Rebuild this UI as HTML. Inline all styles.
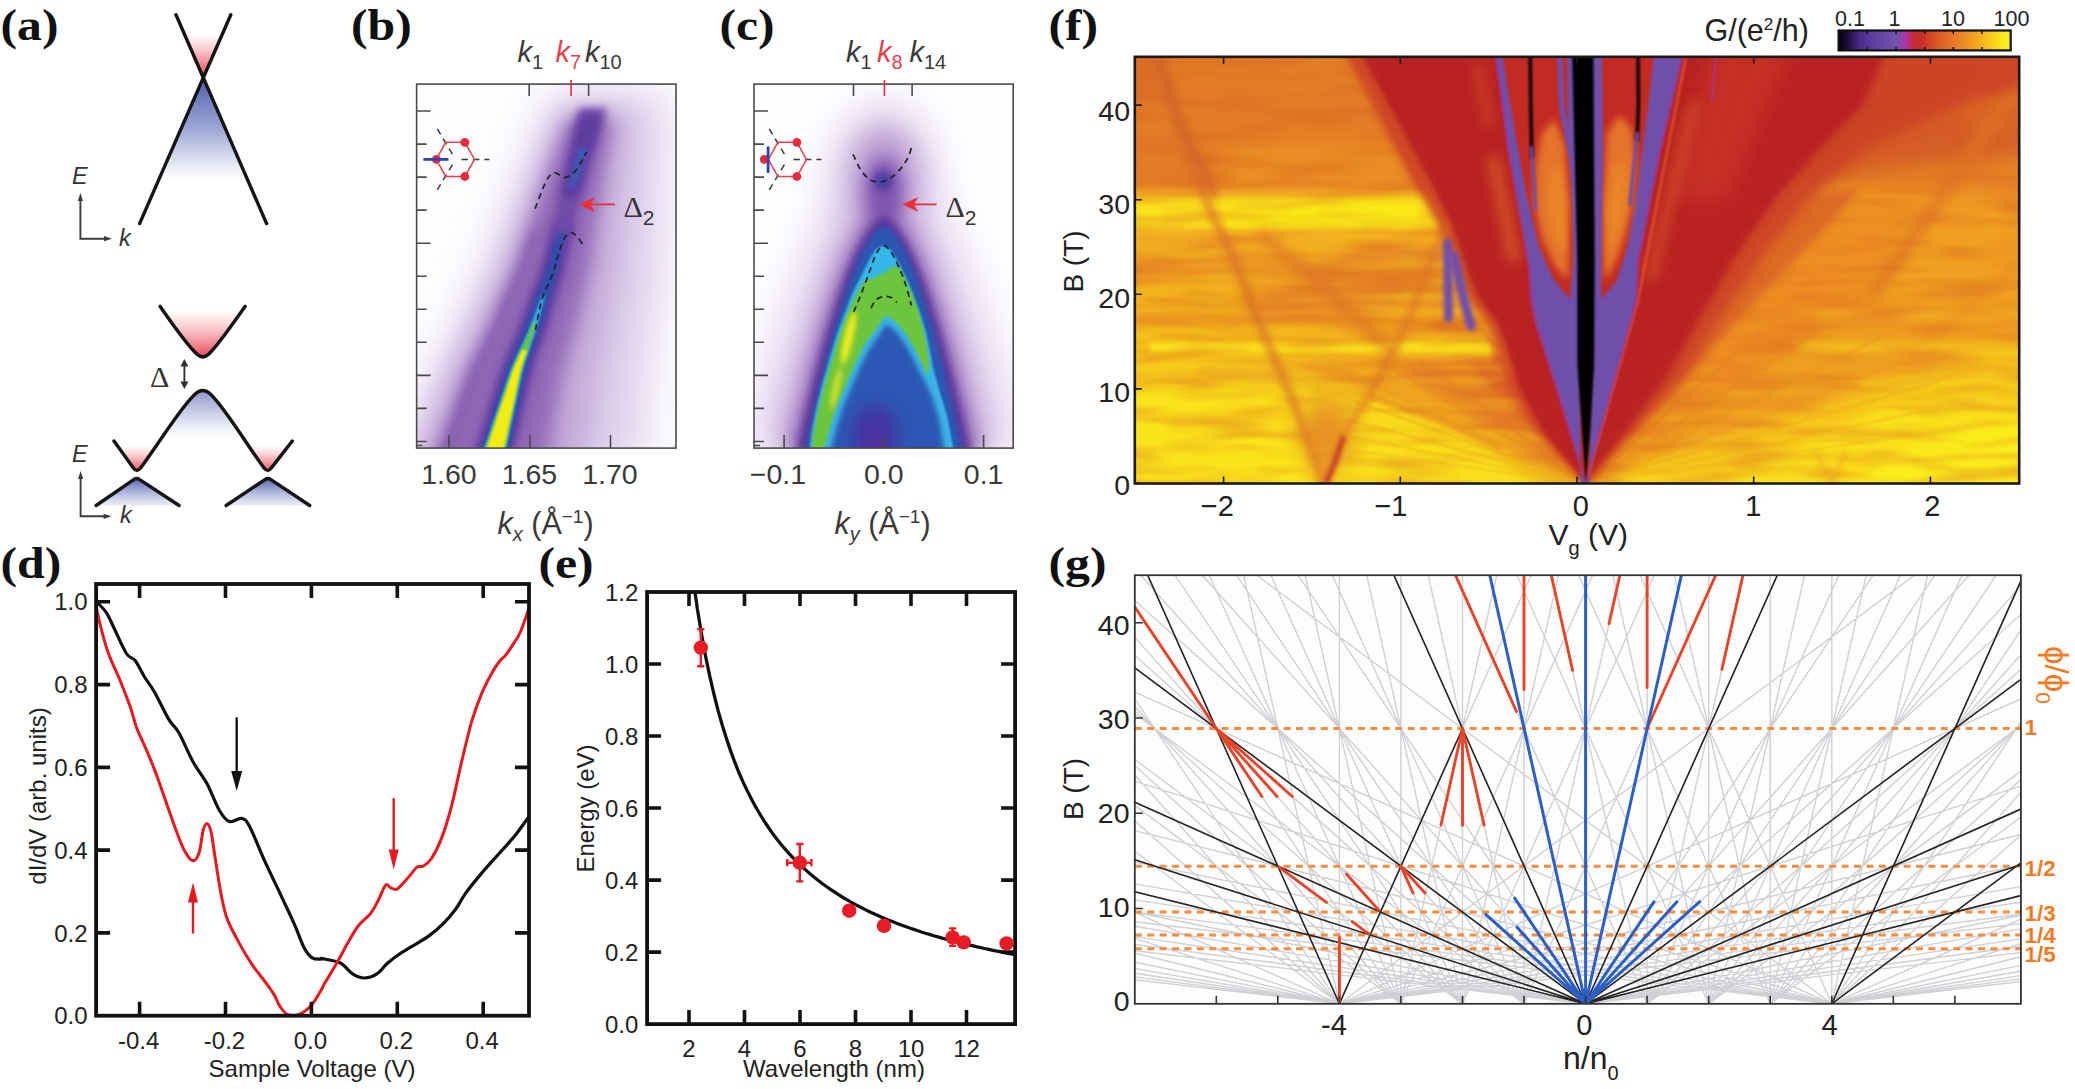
<!DOCTYPE html>
<html><head><meta charset="utf-8"><title>Figure</title>
<style>
html,body{margin:0;padding:0;background:#fff;}
svg{display:block}
.ss{font-family:"Liberation Sans", sans-serif;}
.sf{font-family:"Liberation Serif", serif;}
</style></head><body>
<svg width="2075" height="1089" viewBox="0 0 2075 1089">
<defs>
<linearGradient id="gR" x1="0" y1="0" x2="0" y2="1"><stop offset="0" stop-color="#f2707a" stop-opacity="0"/><stop offset="0.25" stop-color="#f0707a" stop-opacity="0.25"/><stop offset="1" stop-color="#e8434f" stop-opacity="1"/></linearGradient>
<linearGradient id="gB" x1="0" y1="0" x2="0" y2="1"><stop offset="0" stop-color="#4a5aaa" stop-opacity="1"/><stop offset="0.5" stop-color="#7080c0" stop-opacity="0.7"/><stop offset="1" stop-color="#9098d0" stop-opacity="0"/></linearGradient>
<linearGradient id="gB2" x1="0" y1="0" x2="0" y2="1"><stop offset="0" stop-color="#4a5aaa" stop-opacity="1"/><stop offset="0.55" stop-color="#8f9ad0" stop-opacity="0.7"/><stop offset="1" stop-color="#aab2dc" stop-opacity="0.25"/></linearGradient>
<linearGradient id="gB3" x1="0" y1="0" x2="0" y2="1"><stop offset="0" stop-color="#8890c8" stop-opacity="0.95"/><stop offset="1" stop-color="#a0a8d8" stop-opacity="0"/></linearGradient>
<linearGradient id="gR2" gradientUnits="userSpaceOnUse" x1="0" y1="311" x2="0" y2="358"><stop offset="0" stop-color="#f2707a" stop-opacity="0"/><stop offset="0.3" stop-color="#f0707a" stop-opacity="0.3"/><stop offset="1" stop-color="#e8434f" stop-opacity="1"/></linearGradient>
<filter id="bl1" filterUnits="userSpaceOnUse" x="380" y="40" width="680" height="460"><feGaussianBlur stdDeviation="1.2"/></filter><filter id="bl2" filterUnits="userSpaceOnUse" x="380" y="40" width="680" height="460"><feGaussianBlur stdDeviation="2.5"/></filter><filter id="bl4" filterUnits="userSpaceOnUse" x="380" y="40" width="680" height="460"><feGaussianBlur stdDeviation="4.5"/></filter><filter id="bl8" filterUnits="userSpaceOnUse" x="380" y="40" width="680" height="460"><feGaussianBlur stdDeviation="8"/></filter><filter id="bl14" filterUnits="userSpaceOnUse" x="380" y="40" width="680" height="460"><feGaussianBlur stdDeviation="14"/></filter><filter id="bl22" filterUnits="userSpaceOnUse" x="380" y="40" width="680" height="460"><feGaussianBlur stdDeviation="22"/></filter>
<clipPath id="clipB"><rect x="416.6" y="84.1" width="259.4" height="364.0"/></clipPath>
<clipPath id="clipC"><rect x="754.0" y="84.1" width="259.20000000000005" height="364.0"/></clipPath>
<clipPath id="clipD"><rect x="96.1" y="584.0" width="432.9" height="431.70000000000005"/></clipPath>
<clipPath id="clipE"><rect x="647.1" y="592.0" width="368.0" height="432.0999999999999"/></clipPath>
<clipPath id="clipF"><rect x="1134.8" y="56.8" width="884.4000000000001" height="426.7"/></clipPath>
<linearGradient id="fbase" x1="0" y1="0" x2="0" y2="1"><stop offset="0" stop-color="#de7228"/><stop offset="0.28" stop-color="#e68226"/><stop offset="0.42" stop-color="#ee9a22"/><stop offset="0.62" stop-color="#f2aa20"/><stop offset="0.75" stop-color="#f5bc1e"/><stop offset="0.86" stop-color="#f7cc1c"/><stop offset="1" stop-color="#f9e01a"/></linearGradient>
<filter id="f1" filterUnits="userSpaceOnUse" x="1090" y="10" width="980" height="520"><feGaussianBlur stdDeviation="1"/></filter><filter id="f2" filterUnits="userSpaceOnUse" x="1090" y="10" width="980" height="520"><feGaussianBlur stdDeviation="2"/></filter><filter id="f3" filterUnits="userSpaceOnUse" x="1090" y="10" width="980" height="520"><feGaussianBlur stdDeviation="3.5"/></filter><filter id="f6" filterUnits="userSpaceOnUse" x="1090" y="10" width="980" height="520"><feGaussianBlur stdDeviation="6"/></filter><filter id="f10" filterUnits="userSpaceOnUse" x="1090" y="10" width="980" height="520"><feGaussianBlur stdDeviation="10"/></filter><filter id="f18" filterUnits="userSpaceOnUse" x="1090" y="10" width="980" height="520"><feGaussianBlur stdDeviation="18"/></filter>
<filter id="fnD" color-interpolation-filters="sRGB" filterUnits="userSpaceOnUse" x="1130" y="50" width="900" height="440"><feTurbulence type="fractalNoise" baseFrequency="0.011 0.075" numOctaves="2" seed="7"/><feColorMatrix type="matrix" values="0 0 0 0 0.86  0 0 0 0 0.38  0 0 0 0 0.14  2.2 0 0 0 -0.95"/><feGaussianBlur stdDeviation="1.2"/><feComposite in2="SourceAlpha" operator="in"/></filter><filter id="fnY" color-interpolation-filters="sRGB" filterUnits="userSpaceOnUse" x="1130" y="50" width="900" height="440"><feTurbulence type="fractalNoise" baseFrequency="0.009 0.085" numOctaves="2" seed="23"/><feColorMatrix type="matrix" values="0 0 0 0 0.98  0 0 0 0 0.86  0 0 0 0 0.1  2.2 0 0 0 -1.0"/><feGaussianBlur stdDeviation="1.2"/><feComposite in2="SourceAlpha" operator="in"/></filter>
<linearGradient id="cbar" x1="0" y1="0" x2="1" y2="0"><stop offset="0" stop-color="#050008"/><stop offset="0.05" stop-color="#1c0c3a"/><stop offset="0.12" stop-color="#4a2a8a"/><stop offset="0.2" stop-color="#5c3fa0"/><stop offset="0.33" stop-color="#7152ac"/><stop offset="0.365" stop-color="#8a48a8"/><stop offset="0.395" stop-color="#b22e9c"/><stop offset="0.43" stop-color="#c42a3a"/><stop offset="0.48" stop-color="#c82c26"/><stop offset="0.58" stop-color="#de5a26"/><stop offset="0.7" stop-color="#ea8424"/><stop offset="0.8" stop-color="#f1a520"/><stop offset="0.88" stop-color="#f6c81c"/><stop offset="0.95" stop-color="#f9e81a"/><stop offset="1" stop-color="#f8f520"/></linearGradient>
<clipPath id="clipG"><rect x="1134.8" y="575.2" width="886.1000000000001" height="428.5999999999999"/></clipPath>
</defs>
<rect width="2075" height="1089" fill="#fff"/>
<text class="sf" transform="translate(0.5,39.5) scale(1.13,1.02)" font-size="44" font-weight="bold" fill="#111">(a)</text>
<polygon points="202.9,76.8 184.5,34 221.8,34" fill="url(#gR)"/>
<polygon points="202.9,76.8 158.2,180 247.6,180" fill="url(#gB)"/>
<path d="M176,14.8 L266.6,223.6 M230.8,14.8 L139.6,223.6" fill="none" stroke="#151515" stroke-width="3.4" stroke-linecap="round" stroke-linejoin="round"/>
<path d="M80.4,198 L80.4,238.7 L107,238.7" fill="none" stroke="#3c3c3c" stroke-width="1.9"/>
<polygon points="80.4,193 77.80000000000001,201 83.0,201" fill="#3c3c3c"/>
<polygon points="112,238.7 104,236.1 104,241.29999999999998" fill="#3c3c3c"/>
<text class="ss" x="71.9" y="184.0" font-size="23.5" font-style="italic" fill="#333">E</text>
<text class="ss" x="119.0" y="246.0" font-size="23.5" font-style="italic" fill="#333">k</text>
<path d="M80.6,476 L80.6,516.3 L106.6,516.3" fill="none" stroke="#3c3c3c" stroke-width="1.9"/>
<polygon points="80.6,471 78.0,479 83.19999999999999,479" fill="#3c3c3c"/>
<polygon points="111.6,516.3 103.6,513.6999999999999 103.6,518.9" fill="#3c3c3c"/>
<text class="ss" x="72.1" y="461.5" font-size="23.5" font-style="italic" fill="#333">E</text>
<text class="ss" x="120.0" y="523.0" font-size="23.5" font-style="italic" fill="#333">k</text>
<path d="M160,306.3 C175,328 190,348 197,354.2 Q202.8,359.5 208.6,354.2 C215.6,348 230,328 245.2,306.3 Z" fill="url(#gR2)"/>
<path d="M160,306.3 C175,328 190,348 197,354.2 Q202.8,359.5 208.6,354.2 C215.6,348 230,328 245.2,306.3" fill="none" stroke="#151515" stroke-width="3.4" stroke-linecap="round" stroke-linejoin="round"/>
<path d="M195.2,394 Q202.8,387 210.4,394 C222,405 235,425 243,437 L162,437 C170,425 183,405 195.2,394 Z" fill="url(#gB3)"/>
<polygon points="136.7,472.5 117.19999999999999,446 156.2,446" fill="url(#gR)"/>
<polygon points="267.9,472.5 248.39999999999998,446 287.4,446" fill="url(#gR)"/>
<path d="M114,441 L133,467.6 Q136.7,473 140.6,468 C160,442 180,408 195.2,394 Q202.8,387 210.4,394 C225,408 245,442 264,468 Q267.9,473 271.6,467.6 L292.3,441" fill="none" stroke="#151515" stroke-width="3.4" stroke-linecap="round" stroke-linejoin="round"/>
<polygon points="136.7,477.6 99.1,505.5 176.1,505.5" fill="url(#gB2)"/>
<path d="M96.1,505.5 L133.7,479.6 Q136.7,477.4 139.7,479.6 L179.1,505.5" fill="none" stroke="#151515" stroke-width="3.4" stroke-linecap="round" stroke-linejoin="round"/>
<polygon points="267.9,477.6 229.2,505.5 306.7,505.5" fill="url(#gB2)"/>
<path d="M226.2,505.5 L264.9,479.6 Q267.9,477.4 270.9,479.6 L309.7,505.5" fill="none" stroke="#151515" stroke-width="3.4" stroke-linecap="round" stroke-linejoin="round"/>
<text class="sf" x="150.0" y="387.0" font-size="30" fill="#333">&#916;</text>
<path d="M184.4,363 L184.4,385" stroke="#333" stroke-width="1.9" fill="none"/>
<polygon points="184.4,359 180.4,366.5 188.4,366.5" fill="#333"/><polygon points="184.4,389 180.4,381.5 188.4,381.5" fill="#333"/>
<text class="sf" transform="translate(351,39.5) scale(1.13,1.02)" font-size="44" font-weight="bold" fill="#111">(b)</text>
<text class="sf" transform="translate(719.5,39.5) scale(1.13,1.02)" font-size="44" font-weight="bold" fill="#111">(c)</text>
<g clip-path="url(#clipB)">
<rect x="416.6" y="84.1" width="259.4" height="364.0" fill="#fdfcfe"/>
<polygon points="395.1,470.0 406.2,443.2 417.3,416.4 428.5,389.6 440.3,362.9 454.8,336.1 467.6,309.3 480.7,282.5 492.3,255.7 502.6,228.9 512.9,202.1 523.2,175.4 534.2,148.6 545.5,121.8 556.6,95.0 666.6,95.0 665.2,121.8 663.5,148.6 662.1,175.4 661.4,202.1 660.8,228.9 660.1,255.7 658.2,282.5 654.8,309.3 651.6,336.1 646.7,362.9 644.5,389.6 643.1,416.4 641.6,443.2 640.1,470.0" fill="#dccdea" filter="url(#bl22)"/>
<polygon points="410.1,470.0 420.6,444.3 431.1,418.6 441.5,392.9 452.1,367.1 465.9,341.4 478.5,315.7 490.5,290.0 502.4,264.3 512.1,238.6 521.7,212.9 531.5,187.1 541.4,161.4 552.0,135.7 562.6,110.0 630.6,110.0 627.7,135.7 624.7,161.4 622.4,187.1 620.3,212.9 618.3,238.6 616.3,264.3 612.0,290.0 607.7,315.7 602.7,341.4 596.6,367.1 593.6,392.9 590.8,418.6 587.9,444.3 585.1,470.0" fill="#c3a9d8" filter="url(#bl14)"/>
<polygon points="428.1,470.0 437.7,445.0 447.2,420.0 456.8,395.0 466.4,370.0 478.9,345.0 490.9,320.0 501.8,295.0 513.3,270.0 522.1,245.0 530.9,220.0 539.7,195.0 548.6,170.0 558.2,145.0 567.9,120.0 613.9,120.0 609.5,145.0 605.1,170.0 601.6,195.0 598.0,220.0 594.5,245.0 591.0,270.0 584.8,295.0 579.2,320.0 572.5,345.0 565.2,370.0 561.0,395.0 556.7,420.0 552.4,445.0 548.1,470.0" fill="#9f7cc0" filter="url(#bl8)"/>
<polygon points="438.1,470.0 447.4,445.4 456.8,420.7 466.1,396.1 475.4,371.4 487.5,346.8 499.4,322.1 509.9,297.5 521.4,272.9 530.1,248.2 538.6,223.6 547.2,198.9 555.8,174.3 565.1,149.6 574.6,125.0 604.6,125.0 599.8,149.6 595.3,174.3 591.4,198.9 587.5,223.6 583.6,248.2 579.7,272.9 572.9,297.5 567.1,322.1 559.9,346.8 552.6,371.4 548.0,396.1 543.3,420.7 538.7,445.4 534.1,470.0" fill="#8d64b3" opacity="0.85" filter="url(#bl8)"/>
<polygon points="432.1,470.0 438.7,452.9 445.3,435.7 451.9,418.6 458.5,401.4 465.1,384.3 471.8,367.1 480.7,350.0 489.5,332.9 497.1,315.7 504.5,298.6 512.6,281.4 519.8,264.3 525.9,247.1 531.9,230.0 539.9,230.0 534.3,247.1 528.7,264.3 521.9,281.4 514.2,298.6 507.2,315.7 500.0,332.9 491.7,350.0 483.3,367.1 477.0,384.3 470.8,401.4 464.6,418.6 458.4,435.7 452.3,452.9 446.1,470.0" fill="#7d55a8" opacity="0.55" filter="url(#bl4)"/>
<polygon points="469.1,470.0 474.6,452.3 480.2,434.6 485.7,416.9 491.3,399.1 496.8,381.4 502.9,363.7 510.7,346.0 518.5,328.3 524.7,310.6 531.4,292.9 538.5,275.1 543.9,257.4 548.9,239.7 553.8,222.0 573.8,222.0 570.3,239.7 566.7,257.4 562.8,275.1 557.1,292.9 551.9,310.6 547.1,328.3 540.7,346.0 534.3,363.7 529.7,381.4 525.6,399.1 521.4,416.9 517.3,434.6 513.2,452.3 509.1,470.0" fill="#5b3a9c" filter="url(#bl4)"/>
<polygon points="550.1,240.0 552.0,230.6 553.9,221.1 555.8,211.7 557.8,202.3 559.7,192.9 561.6,183.4 563.6,174.0 565.6,164.6 567.9,155.1 570.2,145.7 572.4,136.3 574.7,126.9 577.0,117.4 579.2,108.0 607.2,108.0 604.3,117.4 601.4,126.9 598.5,136.3 595.6,145.7 592.7,155.1 589.7,164.6 587.1,174.0 584.5,183.4 581.9,192.9 579.3,202.3 576.8,211.7 574.2,221.1 571.6,230.6 569.1,240.0" fill="#6f4aa8" filter="url(#bl4)"/>
<polygon points="562.1,196.0 563.3,190.3 564.5,184.6 565.7,178.9 567.0,173.1 568.2,167.4 569.6,161.7 571.0,156.0 572.5,150.3 573.9,144.6 575.3,138.9 576.8,133.1 578.2,127.4 579.6,121.7 581.0,116.0 601.0,116.0 599.3,121.7 597.6,127.4 595.9,133.1 594.2,138.9 592.5,144.6 590.7,150.3 589.0,156.0 587.3,161.7 585.6,167.4 584.1,173.1 582.6,178.9 581.1,184.6 579.6,190.3 578.1,196.0" fill="#5b3a9c" filter="url(#bl4)"/>
<polygon points="475.1,470.0 480.5,453.0 485.9,436.0 491.4,419.0 496.8,402.0 502.2,385.0 507.6,368.0 515.3,351.0 522.9,334.0 529.4,317.0 535.5,300.0 542.5,283.0 548.7,266.0 553.6,249.0 558.5,232.0 564.5,232.0 561.2,249.0 557.9,266.0 553.3,283.0 548.0,300.0 543.4,317.0 538.5,334.0 532.5,351.0 526.5,368.0 522.7,385.0 518.9,402.0 515.0,419.0 511.2,436.0 507.4,453.0 503.6,470.0" fill="#2b4fb0" filter="url(#bl2)"/>
<polygon points="568.5,188.0 569.2,185.1 569.8,182.3 570.5,179.4 571.2,176.6 571.9,173.7 572.6,170.9 573.3,168.0 574.0,165.1 574.8,162.3 575.6,159.4 576.4,156.6 577.2,153.7 577.9,150.9 578.7,148.0 587.7,148.0 586.8,150.9 585.9,153.7 584.9,156.6 584.0,159.4 583.1,162.3 582.2,165.1 581.3,168.0 580.4,170.9 579.6,173.7 578.8,176.6 578.0,179.4 577.1,182.3 576.3,185.1 575.5,188.0" fill="#3a5ab8" filter="url(#bl2)"/>
<polygon points="477.1,470.0 481.3,457.6 485.4,445.1 489.6,432.7 493.7,420.3 497.9,407.9 502.1,395.4 506.2,383.0 510.4,370.6 515.8,358.1 521.6,345.7 527.3,333.3 532.4,320.9 537.0,308.4 541.9,296.0 544.9,296.0 541.5,308.4 538.4,320.9 534.9,333.3 530.7,345.7 526.5,358.1 522.6,370.6 520.0,383.0 517.3,395.4 514.7,407.9 512.1,420.3 509.5,432.7 506.8,445.1 504.2,457.6 501.6,470.0" fill="#2fb4e6" filter="url(#bl1)"/>
<polygon points="478.3,470.0 481.9,459.4 485.4,448.9 489.0,438.3 492.6,427.7 496.2,417.1 499.7,406.6 503.3,396.0 506.9,385.4 510.5,374.9 514.5,364.3 519.5,353.7 524.4,343.1 529.3,332.6 533.6,322.0 536.6,322.0 533.7,332.6 530.1,343.1 526.6,353.7 523.0,364.3 520.3,374.9 518.1,385.4 515.9,396.0 513.7,406.6 511.4,417.1 509.2,427.7 507.0,438.3 504.8,448.9 502.6,459.4 500.4,470.0" fill="#6cc33c" filter="url(#bl1)"/>
<polygon points="479.3,470.0 482.2,461.4 485.1,452.9 488.0,444.3 490.9,435.7 493.8,427.1 496.7,418.6 499.6,410.0 502.5,401.4 505.4,392.9 508.3,384.3 511.1,375.7 514.2,367.1 518.2,358.6 522.2,350.0 527.2,350.0 524.2,358.6 521.3,367.1 519.4,375.7 517.6,384.3 515.7,392.9 513.9,401.4 512.1,410.0 510.3,418.6 508.5,427.1 506.7,435.7 504.8,444.3 503.0,452.9 501.2,461.4 499.4,470.0" fill="#f4ea18" filter="url(#bl1)"/>
</g>
<g clip-path="url(#clipC)">
<rect x="754.0" y="84.1" width="259.20000000000005" height="364.0" fill="#fefdff"/>
<polygon points="742.4,453.0 747.4,433.8 752.4,415.2 757.4,397.1 762.4,379.6 767.4,362.7 772.4,346.3 777.4,330.5 782.5,315.4 787.5,300.8 792.5,286.8 797.5,273.4 802.5,260.7 807.6,248.5 812.6,237.0 817.6,226.1 822.6,215.9 827.7,206.4 832.7,197.5 837.8,189.3 842.8,181.8 847.9,175.0 853.0,168.9 858.0,163.6 863.1,159.1 868.2,155.4 873.3,152.6 878.5,150.8 883.7,150.0 888.9,150.8 894.1,152.6 899.2,155.4 904.3,159.1 909.4,163.6 914.4,168.9 919.5,175.0 924.6,181.8 929.6,189.3 934.7,197.5 939.7,206.4 944.8,215.9 949.8,226.1 954.8,237.0 959.8,248.5 964.9,260.7 969.9,273.4 974.9,286.8 979.9,300.8 984.9,315.4 990.0,330.5 995.0,346.3 1000.0,362.7 1005.0,379.6 1010.0,397.1 1015.0,415.2 1020.0,433.8 1025.0,453.0" fill="#e3d6ee" filter="url(#bl22)"/>
<ellipse cx="884" cy="170" rx="46" ry="62" fill="#d6c2e4" filter="url(#bl22)"/>
<polygon points="774.5,453.0 778.6,436.0 782.7,419.5 786.7,403.5 790.8,388.1 794.8,373.1 798.8,358.6 802.9,344.7 806.9,331.3 810.9,318.4 814.9,306.0 818.9,294.2 822.8,282.9 826.8,272.1 830.8,262.0 834.7,252.4 838.6,243.3 842.5,234.9 846.4,227.0 850.3,219.7 854.2,213.1 858.0,207.1 861.8,201.7 865.6,197.1 869.4,193.1 873.1,189.8 876.8,187.3 880.3,185.7 883.7,185.0 887.1,185.7 890.6,187.3 894.3,189.8 898.0,193.1 901.8,197.1 905.6,201.7 909.4,207.1 913.2,213.1 917.1,219.7 921.0,227.0 924.9,234.9 928.8,243.3 932.7,252.4 936.6,262.0 940.6,272.1 944.6,282.9 948.5,294.2 952.5,306.0 956.5,318.4 960.5,331.3 964.5,344.7 968.6,358.6 972.6,373.1 976.6,388.1 980.7,403.5 984.7,419.5 988.8,436.0 992.9,453.0" fill="#c4a8d8" filter="url(#bl14)"/>
<ellipse cx="884" cy="180" rx="30" ry="50" fill="#b595cf" filter="url(#bl14)"/>
<polygon points="786.6,453.0 790.3,437.1 794.0,421.7 797.7,406.7 801.5,392.2 805.2,378.2 808.8,364.6 812.5,351.5 816.2,339.0 819.8,326.9 823.4,315.3 827.0,304.2 830.6,293.7 834.2,283.6 837.7,274.1 841.3,265.1 844.8,256.6 848.3,248.7 851.7,241.3 855.2,234.5 858.6,228.3 862.0,222.7 865.3,217.7 868.6,213.3 871.8,209.6 875.0,206.5 878.1,204.2 881.0,202.6 883.7,202.0 886.4,202.6 889.3,204.2 892.4,206.5 895.6,209.6 898.8,213.3 902.1,217.7 905.4,222.7 908.8,228.3 912.2,234.5 915.7,241.3 919.1,248.7 922.6,256.6 926.1,265.1 929.7,274.1 933.2,283.6 936.8,293.7 940.4,304.2 944.0,315.3 947.6,326.9 951.2,339.0 954.9,351.5 958.6,364.6 962.2,378.2 965.9,392.2 969.7,406.7 973.4,421.7 977.1,437.1 980.8,453.0" fill="#9b74bd" filter="url(#bl8)"/>
<ellipse cx="884" cy="192" rx="19" ry="34" fill="#7e54ad" filter="url(#bl8)"/>
<ellipse cx="883" cy="181" rx="9" ry="10" fill="#5136a0" filter="url(#bl4)"/>
<ellipse cx="883" cy="181" rx="3.5" ry="4" fill="#3a4db0" filter="url(#bl2)"/>
<polygon points="795.6,453.0 799.0,438.0 802.4,423.4 805.8,409.3 809.1,395.6 812.5,382.3 815.8,369.5 819.1,357.2 822.4,345.3 825.7,333.9 829.0,323.0 832.3,312.5 835.6,302.6 838.8,293.1 842.0,284.1 845.2,275.6 848.4,267.6 851.6,260.1 854.7,253.1 857.8,246.7 860.9,240.9 864.0,235.5 867.0,230.8 870.0,226.7 872.9,223.1 875.8,220.3 878.6,218.0 881.3,216.6 883.7,216.0 886.1,216.6 888.8,218.0 891.6,220.3 894.5,223.1 897.4,226.7 900.4,230.8 903.4,235.5 906.5,240.9 909.6,246.7 912.7,253.1 915.8,260.1 919.0,267.6 922.2,275.6 925.4,284.1 928.6,293.1 931.8,302.6 935.1,312.5 938.4,323.0 941.7,333.9 945.0,345.3 948.3,357.2 951.6,369.5 954.9,382.3 958.3,395.6 961.6,409.3 965.0,423.4 968.4,438.0 971.8,453.0" fill="#5a3698" filter="url(#bl4)"/>
<polygon points="804.4,453.0 807.4,438.6 810.5,424.6 813.5,411.1 816.5,397.9 819.6,385.3 822.6,373.0 825.6,361.2 828.5,349.8 831.5,338.9 834.5,328.4 837.4,318.3 840.4,308.8 843.3,299.7 846.2,291.0 849.1,282.9 851.9,275.2 854.8,268.1 857.6,261.4 860.4,255.3 863.2,249.6 865.9,244.5 868.7,240.0 871.4,236.0 874.0,232.6 876.6,229.9 879.1,227.8 881.5,226.4 883.7,225.8 885.9,226.4 888.3,227.8 890.8,229.9 893.4,232.6 896.0,236.0 898.7,240.0 901.5,244.5 904.2,249.6 907.0,255.3 909.8,261.4 912.6,268.1 915.5,275.2 918.3,282.9 921.2,291.0 924.1,299.7 927.0,308.8 930.0,318.3 932.9,328.4 935.9,338.9 938.9,349.8 941.8,361.2 944.8,373.0 947.8,385.3 950.9,397.9 953.9,411.1 956.9,424.6 960.0,438.6 963.0,453.0" fill="#2a56b2" filter="url(#bl2)"/>
<polygon points="883.1,245.4 875.5,249.7 868.3,261.6 860.0,278.3 851.6,295.0 844.4,314.1 837.3,333.2 830.1,357.1 823.0,380.9 817.0,404.8 812.2,428.7 809.1,452.5 954.2,452.5 947.1,416.7 939.9,392.9 933.9,371.4 930.4,352.3 925.6,330.8 919.6,311.7 912.5,292.6 905.3,275.9 898.1,261.6 891.0,249.7" fill="#35b8e8" filter="url(#bl1)"/>
<polygon points="894.6,265.9 885.0,272.3 875.5,277.1 863.5,281.9 854.5,297.4 846.3,316.5 839.2,335.6 832.0,359.5 824.9,383.3 818.9,407.2 814.1,428.7 811.3,452.5 823.4,452.5 831.3,423.9 839.7,400.0 849.2,378.5 858.8,357.1 865.9,342.7 875.5,330.8 886.2,315.3 896.9,323.7 906.5,335.6 914.8,349.9 922.0,364.2 926.8,376.6 929.2,366.6 926.8,345.1 923.2,328.4 918.4,311.7 912.5,295.0 905.3,279.5 900.0,268.3" fill="#6dc43e" filter="url(#bl1)"/>
<polygon points="853.2,339.1 851.0,347.5 848.6,354.9 846.2,360.7 844.0,364.3 842.2,365.3 841.1,363.6 840.7,359.4 841.0,353.2 842.1,345.4 843.8,336.9 846.0,328.5 848.4,321.1 850.8,315.3 853.0,311.7 854.8,310.7 855.9,312.4 856.3,316.6 856.0,322.8 854.9,330.6" fill="#ecec1a" filter="url(#bl2)"/>
<polygon points="839.5,388.7 837.9,395.4 836.2,401.3 834.4,405.8 832.7,408.7 831.4,409.5 830.6,408.2 830.2,405.0 830.5,400.0 831.2,393.9 832.5,387.3 834.1,380.6 835.8,374.7 837.6,370.2 839.3,367.3 840.6,366.5 841.4,367.8 841.8,371.0 841.5,376.0 840.8,382.1" fill="#dfe628" opacity="0.85" filter="url(#bl2)"/>
<polygon points="886.2,315.8 875.5,331.3 865.9,343.5 858.8,357.8 849.2,379.3 839.7,400.7 831.3,424.6 823.9,452.5 952.3,452.5 945.9,416.7 938.7,392.9 932.7,372.6 927.5,378.5 922.0,364.9 914.8,350.6 906.5,336.3 896.9,324.1" fill="#3cb4e4" filter="url(#bl1)"/>
<polygon points="886.2,324.1 877.4,337.5 868.8,349.4 861.6,363.7 852.8,383.8 844.0,404.8 836.3,427.5 830.1,452.5 944.7,452.5 939.4,420.3 932.7,398.1 926.1,383.8 919.6,371.4 912.5,357.1 904.6,343.2 896.0,331.3" fill="#2a58b4" filter="url(#bl2)"/>
<ellipse cx="875" cy="438" rx="24" ry="34" fill="#4336a4" filter="url(#bl8)"/>
<ellipse cx="874" cy="446" rx="12" ry="18" fill="#5030a0" filter="url(#bl4)"/>
</g>
<rect x="416.6" y="84.1" width="259.4" height="364.0" fill="none" stroke="#4a4a4a" stroke-width="1.6"/>
<path d="M416.6,111.0 h14 M416.6,144.1 h10 M416.6,177.1 h10 M416.6,210.1 h10 M416.6,243.2 h14 M416.6,276.2 h10 M416.6,309.3 h10 M416.6,342.3 h10 M416.6,375.4 h14 M416.6,408.4 h10 M416.6,441.5 h10 M416.6,445.5 h6 " stroke="#4a4a4a" stroke-width="1.6" fill="none"/>
<rect x="754.0" y="84.1" width="259.20000000000005" height="364.0" fill="none" stroke="#4a4a4a" stroke-width="1.6"/>
<path d="M754.0,111.0 h14 M754.0,144.1 h10 M754.0,177.1 h10 M754.0,210.1 h10 M754.0,243.2 h14 M754.0,276.2 h10 M754.0,309.3 h10 M754.0,342.3 h10 M754.0,375.4 h14 M754.0,408.4 h10 M754.0,441.5 h10 M754.0,445.5 h6 " stroke="#4a4a4a" stroke-width="1.6" fill="none"/>
<path d="M449,448.1 v-13 M530,448.1 v-13 M610.5,448.1 v-13 M784.1,448.1 v-13 M883.7,448.1 v-13 M983.6,448.1 v-13" stroke="#4a4a4a" stroke-width="1.6" fill="none"/>
<path d="M529.2,84.1 v12 M588.6,84.1 v12 M853.5,84.1 v12 M912.1,84.1 v12" stroke="#4a4a4a" stroke-width="1.6" fill="none"/>
<path d="M571.1,80.1 v16 M884.4,80.1 v16" stroke="#e8303a" stroke-width="1.6" fill="none"/>
<text class="ss" x="517.5" y="61.5" font-size="29" fill="#3a3a3a"><tspan font-style="italic">k</tspan><tspan font-size="20" dy="7">1</tspan></text>
<text class="ss" x="555.5" y="61.5" font-size="29" fill="#e8404a"><tspan font-style="italic">k</tspan><tspan font-size="20" dy="7">7</tspan></text>
<text class="ss" x="585" y="61.5" font-size="29" fill="#3a3a3a"><tspan font-style="italic">k</tspan><tspan font-size="20" dy="7">10</tspan></text>
<text class="ss" x="846" y="61.5" font-size="29" fill="#3a3a3a"><tspan font-style="italic">k</tspan><tspan font-size="20" dy="7">1</tspan></text>
<text class="ss" x="877" y="61.5" font-size="29" fill="#e8404a"><tspan font-style="italic">k</tspan><tspan font-size="20" dy="7">8</tspan></text>
<text class="ss" x="909.5" y="61.5" font-size="29" fill="#3a3a3a"><tspan font-style="italic">k</tspan><tspan font-size="20" dy="7">14</tspan></text>
<text class="ss" x="449.0" y="483.5" font-size="28.5" text-anchor="middle" fill="#3a3a3a">1.60</text>
<text class="ss" x="529.5" y="483.5" font-size="28.5" text-anchor="middle" fill="#3a3a3a">1.65</text>
<text class="ss" x="610.0" y="483.5" font-size="28.5" text-anchor="middle" fill="#3a3a3a">1.70</text>
<text class="ss" x="883.7" y="483.5" font-size="28.5" text-anchor="middle" fill="#3a3a3a">0.0</text>
<text class="ss" x="983.6" y="483.5" font-size="28.5" text-anchor="middle" fill="#3a3a3a">0.1</text>
<text class="ss" x="778.0" y="483.5" font-size="28.5" text-anchor="middle" fill="#3a3a3a">&#8722;0.1</text>
<text class="ss" x="497.5" y="534" font-size="30.5" fill="#3a3a3a"><tspan font-style="italic">k</tspan><tspan font-size="20" font-style="italic" dy="7">x</tspan><tspan dy="-7"> (&#197;</tspan><tspan font-size="19" dy="-11">&#8722;1</tspan><tspan dy="11">)</tspan></text>
<text class="ss" x="834.5" y="534" font-size="30.5" fill="#3a3a3a"><tspan font-style="italic">k</tspan><tspan font-size="20" font-style="italic" dy="7">y</tspan><tspan dy="-7"> (&#197;</tspan><tspan font-size="19" dy="-11">&#8722;1</tspan><tspan dy="11">)</tspan></text>
<path d="M461.4,159.4 L489.4,159.4 M452.4,154.20000000000002 L434.9,124.9 M452.4,164.6 L434.9,193.9" stroke="#3a3a3a" stroke-width="1.5" stroke-dasharray="6.5 5" fill="none"/>
<polygon points="436.3,159.4 445.8,142.3 464.9,142.3 474.5,159.4 464.9,176.5 445.8,176.5" fill="none" stroke="#e8404a" stroke-width="1.5"/>
<circle cx="464.9" cy="142.3" r="4.4" fill="#e82a3a"/>
<circle cx="464.9" cy="176.5" r="4.4" fill="#e82a3a"/>
<circle cx="436.3" cy="159.4" r="4.4" fill="#e82a3a"/>
<path d="M423.4,159.4 L448.4,159.4" stroke="#2a45b0" stroke-width="2.8"/>
<path d="M793.4,159.4 L821.4,159.4 M784.4,154.20000000000002 L766.9,124.9 M784.4,164.6 L766.9,193.9" stroke="#3a3a3a" stroke-width="1.5" stroke-dasharray="6.5 5" fill="none"/>
<polygon points="768.3,159.4 777.9,142.3 796.9,142.3 806.5,159.4 796.9,176.5 777.9,176.5" fill="none" stroke="#e8404a" stroke-width="1.5"/>
<circle cx="796.9" cy="142.3" r="4.4" fill="#e82a3a"/>
<circle cx="796.9" cy="176.5" r="4.4" fill="#e82a3a"/>
<circle cx="764.3" cy="159.4" r="4.4" fill="#e82a3a"/>
<path d="M768.1,146.4 L768.1,172.9" stroke="#2a45b0" stroke-width="2.8"/>
<path d="M614.9,204.4 L584.9,204.4" stroke="#e8303a" stroke-width="1.8" fill="none"/>
<path d="M578.9,204.4 L594.9,196.9 L590.4,204.4 L594.9,211.9 Z" fill="#e8303a"/>
<text class="sf" x="623.5" y="216.9" font-size="30" fill="#333">&#916;<tspan class="ss" font-size="21" dy="8">2</tspan></text>
<path d="M936.6,204.4 L908.4,204.4" stroke="#e8303a" stroke-width="1.8" fill="none"/>
<path d="M902.4,204.4 L918.4,196.9 L913.9,204.4 L918.4,211.9 Z" fill="#e8303a"/>
<text class="sf" x="945.5" y="216.9" font-size="30" fill="#333">&#916;<tspan class="ss" font-size="21" dy="8">2</tspan></text>
<path d="M535.1,208.8 C536.2,205.9 539.4,196.7 541.6,191.6 C543.7,186.4 545.8,181.1 548.0,177.9 C550.2,174.8 552.0,172.9 554.9,172.8 C557.9,172.7 561.9,177.9 565.5,177.4 C569.0,176.9 572.8,174.0 576.3,169.7 C579.8,165.4 584.9,154.7 586.6,151.7" stroke="#222" stroke-width="1.7" stroke-dasharray="6 4.5" fill="none"/>
<path d="M535.5,330.0 C536.5,325.2 538.6,310.6 541.5,301.0 C544.4,291.4 550.3,280.3 553.1,272.6 C555.9,264.8 556.4,260.3 558.3,254.6 C560.2,248.8 562.6,241.5 564.7,237.9 C566.9,234.2 569.0,232.8 571.1,232.7 C573.3,232.6 575.6,235.2 577.6,237.1 C579.5,239.0 581.9,243.1 582.7,244.3" stroke="#222" stroke-width="1.7" stroke-dasharray="6 4.5" fill="none"/>
<path d="M853.0,154.3 C854.3,156.9 857.9,165.5 860.7,169.7 C863.5,173.9 866.5,177.4 869.7,179.5 C872.9,181.5 876.4,182.4 880.0,182.1 C883.6,181.7 887.9,179.9 891.6,177.4 C895.2,174.9 899.1,170.6 901.9,167.1 C904.6,163.7 906.6,160.5 908.3,156.9 C910.0,153.2 911.5,147.2 912.1,145.3" stroke="#222" stroke-width="1.7" stroke-dasharray="6 4.5" fill="none"/>
<path d="M853.8,311.9 C854.9,309.1 858.3,301.4 860.7,295.1 C863.2,288.9 865.9,281.4 868.4,274.6 C871.0,267.7 873.6,258.8 876.1,254.0 C878.7,249.2 881.3,246.0 883.9,245.8 C886.4,245.6 889.0,249.0 891.6,252.7 C894.1,256.4 896.9,262.8 899.3,268.1 C901.6,273.5 903.7,278.6 905.7,284.9 C907.7,291.1 910.4,302.0 911.4,305.4" stroke="#222" stroke-width="1.7" stroke-dasharray="6 4.5" fill="none"/>
<path d="M871.0,308.0 C871.9,306.6 874.0,301.7 876.1,299.8 C878.3,297.8 881.3,296.8 883.9,296.4 C886.4,296.1 889.4,296.7 891.6,297.7 C893.7,298.7 895.9,301.6 896.7,302.3" stroke="#222" stroke-width="1.7" stroke-dasharray="6 4.5" fill="none"/>
<text class="sf" transform="translate(0.5,577.5) scale(1.13,1.02)" font-size="44" font-weight="bold" fill="#111">(d)</text>
<text class="sf" transform="translate(538.5,577.5) scale(1.13,1.02)" font-size="44" font-weight="bold" fill="#111">(e)</text>
<g clip-path="url(#clipD)">
<path d="M94.8,600.2 C96.7,602.2 102.9,607.6 106.2,612.3 C109.4,617.0 110.9,621.6 114.2,628.5 C117.6,635.4 122.9,648.1 126.4,653.5 C129.9,658.9 132.2,656.9 135.3,660.8 C138.3,664.7 141.3,671.7 144.5,677.0 C147.8,682.2 150.6,685.3 154.6,692.3 C158.7,699.4 164.7,712.7 168.8,719.4 C172.8,726.1 174.8,725.7 178.9,732.7 C182.9,739.8 188.3,753.3 193.0,761.8 C197.7,770.4 202.8,776.0 207.2,784.0 C211.5,792.1 215.6,804.0 219.3,810.3 C223.0,816.6 225.7,820.3 229.4,821.6 C233.1,823.0 238.1,817.6 241.5,818.4 C244.9,819.2 245.9,819.7 249.6,826.5 C253.3,833.2 258.7,847.7 263.7,858.8 C268.8,869.9 274.8,882.4 279.9,893.1 C284.9,903.9 290.0,914.3 294.0,923.4 C298.1,932.5 301.1,942.0 304.1,947.7 C307.2,953.4 309.2,955.9 312.2,957.8 C315.3,959.7 320.6,958.9 322.3,959.0 C324.0,959.1 319.2,957.9 322.3,958.6 C325.3,959.3 335.4,960.5 340.4,963.0 C345.5,965.6 348.5,971.4 352.6,973.9 C356.6,976.4 360.6,978.0 364.7,978.0 C368.7,978.0 373.1,976.3 376.8,973.9 C380.5,971.6 383.5,966.9 386.9,963.8 C390.3,960.8 392.6,958.8 397.0,955.8 C401.4,952.7 407.8,949.0 413.2,945.7 C418.6,942.3 424.3,939.3 429.3,935.6 C434.4,931.9 439.1,927.8 443.5,923.4 C447.9,919.1 451.9,914.3 455.6,909.3 C459.3,904.2 461.3,899.2 465.7,893.1 C470.1,887.1 476.5,879.3 481.9,872.9 C487.2,866.5 492.6,860.8 498.0,854.7 C503.4,848.7 509.0,843.0 514.2,836.6 C519.4,830.2 526.6,819.7 529.1,816.4" fill="none" stroke="#111" stroke-width="3.2" stroke-linejoin="round"/>
<path d="M94.8,600.2 C95.7,604.2 97.9,615.7 100.1,624.4 C102.3,633.2 104.8,643.3 108.2,652.7 C111.5,662.2 116.6,671.9 120.3,681.0 C124.0,690.1 127.7,699.5 130.4,707.3 C133.1,715.0 134.1,721.1 136.5,727.5 C138.8,733.9 141.5,738.6 144.5,745.7 C147.6,752.7 151.3,761.1 154.6,769.9 C158.0,778.7 161.0,787.7 164.7,798.2 C168.5,808.6 173.5,823.6 176.9,832.5 C180.2,841.4 182.3,846.8 184.9,851.5 C187.6,856.2 190.7,860.6 193.0,860.8 C195.4,861.0 197.4,857.8 199.1,852.7 C200.8,847.7 201.8,835.4 203.1,830.5 C204.5,825.7 205.8,823.3 207.2,823.6 C208.5,824.0 209.9,826.7 211.2,832.5 C212.6,838.4 213.6,848.4 215.3,858.8 C216.9,869.2 219.3,885.1 221.3,895.2 C223.3,905.3 224.3,911.3 227.4,919.4 C230.4,927.5 235.5,936.2 239.5,943.6 C243.5,951.0 247.6,957.8 251.6,963.8 C255.7,969.9 260.0,974.9 263.7,980.0 C267.4,985.1 271.1,989.8 273.8,994.1 C276.5,998.5 277.5,1002.8 279.9,1006.3 C282.3,1009.7 284.6,1013.5 288.0,1014.7 C291.3,1016.0 296.1,1015.7 300.1,1013.9 C304.1,1012.2 308.5,1008.6 312.2,1004.2 C315.9,999.9 320.3,991.4 322.3,988.1 C324.3,984.7 321.9,988.1 324.2,984.0 C326.6,980.0 332.3,970.9 336.4,963.8 C340.4,956.8 344.8,948.0 348.5,941.6 C352.2,935.2 354.9,930.2 358.6,925.5 C362.3,920.7 367.3,917.7 370.7,913.3 C374.1,909.0 376.3,903.9 378.8,899.2 C381.3,894.5 383.6,886.9 385.7,885.1 C387.7,883.2 389.0,887.2 390.9,887.9 C392.8,888.6 394.6,890.2 397.0,889.1 C399.3,887.9 402.7,883.5 405.1,881.0 C407.4,878.5 409.1,876.5 411.1,874.1 C413.1,871.8 415.2,868.2 417.2,866.9 C419.2,865.5 420.9,867.4 423.2,866.1 C425.6,864.7 428.3,863.4 431.3,858.8 C434.3,854.2 438.0,847.3 441.4,838.6 C444.8,829.8 448.1,819.1 451.5,806.3 C454.9,793.5 458.2,776.0 461.6,761.8 C465.0,747.7 468.4,732.9 471.7,721.4 C475.1,710.0 478.5,701.2 481.8,693.1 C485.2,685.1 488.9,678.3 491.9,672.9 C494.9,667.5 497.6,663.8 500.0,660.8 C502.4,657.8 503.7,657.8 506.1,654.7 C508.4,651.7 511.8,646.3 514.1,642.6 C516.5,638.9 517.7,638.2 520.2,632.5 C522.7,626.8 527.6,612.3 529.1,608.3" fill="none" stroke="#e8181e" stroke-width="3" stroke-linejoin="round"/>
</g>
<rect x="96.1" y="584.0" width="432.9" height="431.70000000000005" fill="none" stroke="#111" stroke-width="3.8"/>
<path d="M139.6,584.0 v14 M139.6,1015.7 v-14 M225.5,584.0 v14 M225.5,1015.7 v-14 M311.4,584.0 v14 M311.4,1015.7 v-14 M397.3,584.0 v14 M397.3,1015.7 v-14 M483.2,584.0 v14 M483.2,1015.7 v-14 M96.1,932.9 h14 M529.0,932.9 h-14 M96.1,850.1 h14 M529.0,850.1 h-14 M96.1,767.4 h14 M529.0,767.4 h-14 M96.1,684.6 h14 M529.0,684.6 h-14 M96.1,601.8 h14 M529.0,601.8 h-14 " stroke="#111" stroke-width="3.6" fill="none"/>
<text class="ss" x="87.6" y="1024.3" font-size="24" text-anchor="end" fill="#222">0.0</text>
<text class="ss" x="87.6" y="941.5" font-size="24" text-anchor="end" fill="#222">0.2</text>
<text class="ss" x="87.6" y="858.7" font-size="24" text-anchor="end" fill="#222">0.4</text>
<text class="ss" x="87.6" y="776.0" font-size="24" text-anchor="end" fill="#222">0.6</text>
<text class="ss" x="87.6" y="693.2" font-size="24" text-anchor="end" fill="#222">0.8</text>
<text class="ss" x="87.6" y="610.4" font-size="24" text-anchor="end" fill="#222">1.0</text>
<text class="ss" x="138.6" y="1049.0" font-size="24" text-anchor="middle" fill="#222">-0.4</text>
<text class="ss" x="224.5" y="1049.0" font-size="24" text-anchor="middle" fill="#222">-0.2</text>
<text class="ss" x="310.4" y="1049.0" font-size="24" text-anchor="middle" fill="#222">0.0</text>
<text class="ss" x="396.3" y="1049.0" font-size="24" text-anchor="middle" fill="#222">0.2</text>
<text class="ss" x="482.2" y="1049.0" font-size="24" text-anchor="middle" fill="#222">0.4</text>
<text class="ss" x="312.0" y="1077.0" font-size="24" text-anchor="middle" fill="#222">Sample Voltage (V)</text>
<text class="ss" font-size="24" fill="#222" text-anchor="middle" transform="translate(46,796) rotate(-90)">dI/dV (arb. units)</text>
<path d="M236.7,717.4 L236.7,777.0" stroke="#111" stroke-width="2.4" fill="none"/>
<polygon points="236.7,791 231.2,771 242.2,771" fill="#111"/>
<path d="M393.7,798.2 L393.7,855.5" stroke="#e8181e" stroke-width="2.4" fill="none"/>
<polygon points="393.7,869.5 388.7,849.5 398.7,849.5" fill="#e8181e"/>
<path d="M193,933.5 L193,896.5" stroke="#e8181e" stroke-width="2.4" fill="none"/>
<polygon points="193,882.5 188,902.5 198,902.5" fill="#e8181e"/>
<g clip-path="url(#clipE)">
<path d="M689.0,546.1 L693.2,579.4 L697.3,608.4 L701.5,633.9 L705.6,656.4 L709.8,676.4 L714.0,694.4 L718.1,710.6 L722.3,725.3 L726.5,738.7 L730.6,750.9 L734.8,762.2 L738.9,772.5 L743.1,782.1 L747.3,790.9 L751.4,799.1 L755.6,806.8 L759.8,814.0 L763.9,820.7 L768.1,827.0 L772.2,832.9 L776.4,838.5 L780.6,843.7 L784.7,848.7 L788.9,853.4 L793.1,857.8 L797.2,862.1 L801.4,866.1 L805.6,869.9 L809.7,873.5 L813.9,877.0 L818.0,880.3 L822.2,883.5 L826.4,886.5 L830.5,889.4 L834.7,892.2 L838.9,894.9 L843.0,897.5 L847.2,899.9 L851.3,902.3 L855.5,904.6 L859.7,906.8 L863.8,908.9 L868.0,911.0 L872.2,912.9 L876.3,914.8 L880.5,916.7 L884.6,918.5 L888.8,920.2 L893.0,921.8 L897.1,923.5 L901.3,925.0 L905.5,926.5 L909.6,928.0 L913.8,929.4 L917.9,930.8 L922.1,932.2 L926.3,933.5 L930.4,934.7 L934.6,936.0 L938.8,937.2 L942.9,938.4 L947.1,939.5 L951.2,940.6 L955.4,941.7 L959.6,942.7 L963.7,943.8 L967.9,944.8 L972.1,945.7 L976.2,946.7 L980.4,947.6 L984.5,948.5 L988.7,949.4 L992.9,950.3 L997.0,951.1 L1001.2,951.9 L1005.4,952.8 L1009.5,953.5 L1013.7,954.3 L1017.8,955.1" fill="none" stroke="#111" stroke-width="3.3"/>
</g>
<rect x="647.1" y="592.0" width="368.0" height="432.0999999999999" fill="none" stroke="#111" stroke-width="3.8"/>
<path d="M689.0,592.0 v14 M689.0,1024.1 v-14 M744.5,592.0 v14 M744.5,1024.1 v-14 M800.0,592.0 v14 M800.0,1024.1 v-14 M855.5,592.0 v14 M855.5,1024.1 v-14 M911.0,592.0 v14 M911.0,1024.1 v-14 M966.5,592.0 v14 M966.5,1024.1 v-14 M647.1,952.1 h14 M1015.1,952.1 h-14 M647.1,880.1 h14 M1015.1,880.1 h-14 M647.1,808.0 h14 M1015.1,808.0 h-14 M647.1,736.0 h14 M1015.1,736.0 h-14 M647.1,664.0 h14 M1015.1,664.0 h-14 " stroke="#111" stroke-width="3.6" fill="none"/>
<text class="ss" x="638.3" y="1032.7" font-size="24" text-anchor="end" fill="#222">0.0</text>
<text class="ss" x="638.3" y="960.7" font-size="24" text-anchor="end" fill="#222">0.2</text>
<text class="ss" x="638.3" y="888.7" font-size="24" text-anchor="end" fill="#222">0.4</text>
<text class="ss" x="638.3" y="816.6" font-size="24" text-anchor="end" fill="#222">0.6</text>
<text class="ss" x="638.3" y="744.6" font-size="24" text-anchor="end" fill="#222">0.8</text>
<text class="ss" x="638.3" y="672.6" font-size="24" text-anchor="end" fill="#222">1.0</text>
<text class="ss" x="638.3" y="600.6" font-size="24" text-anchor="end" fill="#222">1.2</text>
<text class="ss" x="689.0" y="1056.6" font-size="24" text-anchor="middle" fill="#222">2</text>
<text class="ss" x="744.5" y="1056.6" font-size="24" text-anchor="middle" fill="#222">4</text>
<text class="ss" x="800.0" y="1056.6" font-size="24" text-anchor="middle" fill="#222">6</text>
<text class="ss" x="855.5" y="1056.6" font-size="24" text-anchor="middle" fill="#222">8</text>
<text class="ss" x="911.0" y="1056.6" font-size="24" text-anchor="middle" fill="#222">10</text>
<text class="ss" x="966.5" y="1056.6" font-size="24" text-anchor="middle" fill="#222">12</text>
<text class="ss" x="834.0" y="1077.0" font-size="24" text-anchor="middle" fill="#222">Wavelength (nm)</text>
<text class="ss" font-size="24" fill="#222" text-anchor="middle" transform="translate(593.5,808.5) rotate(-90)">Energy (eV)</text>
<path d="M700.8,629.2 L700.8,666.2 M697.1999999999999,629.2 h7.2 M697.1999999999999,666.2 h7.2 " stroke="#e81c24" stroke-width="2.4" fill="none"/>
<path d="M799.8,844.0 L799.8,881.4000000000001 M796.1999999999999,844.0 h7.2 M796.1999999999999,881.4000000000001 h7.2 M787.1999999999999,862.7 L811.4,862.7 M787.1999999999999,859.1 v7.2 M811.4,859.1 v7.2 " stroke="#e81c24" stroke-width="2.4" fill="none"/>
<path d="M952.6,928.4 L952.6,945.9 M949.0,928.4 h7.2 M949.0,945.9 h7.2 " stroke="#e81c24" stroke-width="2.4" fill="none"/>
<circle cx="700.8" cy="647.6" r="7.2" fill="#e81c24"/>
<circle cx="799.8" cy="862.7" r="7.2" fill="#e81c24"/>
<circle cx="849.2" cy="910.7" r="7.2" fill="#e81c24"/>
<circle cx="884" cy="925.8" r="7.2" fill="#e81c24"/>
<circle cx="952.6" cy="937.4" r="7.2" fill="#e81c24"/>
<circle cx="963.7" cy="942.4" r="7.2" fill="#e81c24"/>
<circle cx="1006.6" cy="943.4" r="7.2" fill="#e81c24"/>
<text class="sf" transform="translate(1048.5,39.5) scale(1.13,1.02)" font-size="44" font-weight="bold" fill="#111">(f)</text>
<g clip-path="url(#clipF)">
<rect x="1129.8" y="51.8" width="894.4000000000001" height="436.7" fill="url(#fbase)"/>
<polygon points="1082.2,188.3 1082.2,29.4 1471.0,29.4 1444.5,188.3" fill="#e27c28" filter="url(#f6)"/>
<polygon points="1223.6,190.2 1223.6,142.9 1400.3,142.9 1409.1,190.2" fill="#eb9424" opacity="0.8" filter="url(#f10)"/>
<polygon points="1082.2,105.1 1082.2,29.4 1188.3,29.4 1144.1,105.1" fill="#dc6c28" opacity="0.8" filter="url(#f10)"/>
<polygon points="1082.2,256.5 1082.2,190.2 1435.6,190.2 1460.4,256.5" fill="#f3ae20" filter="url(#f3)"/>
<polygon points="1082.2,229.0 1082.2,197.8 1433.9,197.8 1446.2,229.0" fill="#f8d81a" filter="url(#f2)"/>
<polygon points="1223.6,224.3 1223.6,203.5 1418.0,203.5 1418.0,224.3" fill="#f9ea16" filter="url(#f3)"/>
<polygon points="1082.2,224.3 1082.2,205.4 1161.8,205.4 1161.8,224.3" fill="#f9e61a" filter="url(#f3)"/>
<polygon points="1082.2,330.2 1082.2,254.6 1460.4,254.6 1488.7,330.2" fill="#ec9a22" filter="url(#f6)"/>
<polygon points="1082.2,307.5 1082.2,281.1 1241.3,281.1 1241.3,307.5" fill="#f3b41e" opacity="0.9" filter="url(#f6)"/>
<polygon points="1214.8,327.4 1356.1,247.0 1449.8,247.0 1373.8,327.4" fill="#e58426" opacity="0.85" filter="url(#f6)"/>
<polygon points="1082.2,493.0 1082.2,328.4 1497.5,328.4 1577.0,493.0" fill="#f5c41c" filter="url(#f6)"/>
<polygon points="1082.2,493.0 1082.2,365.2 1400.3,365.2 1488.7,445.7 1524.0,493.0" fill="#f8da1a" filter="url(#f10)"/>
<polygon points="1082.2,493.0 1082.2,393.6 1267.8,393.6 1312.0,493.0" fill="#fae61a" opacity="0.9" filter="url(#f6)"/>
<polygon points="1356.1,493.0 1365.0,436.2 1488.7,455.1 1550.5,493.0" fill="#f9e21a" opacity="0.85" filter="url(#f6)"/>
<polygon points="1585.8,483.5 1206.8,327.4 1469.2,327.4" fill="#ee9e22" opacity="0.9" filter="url(#f6)"/>
<polygon points="1585.8,483.5 1329.3,327.4 1469.2,327.4" fill="#e58026" opacity="0.95" filter="url(#f6)"/>
<polygon points="1585.8,483.5 1429.6,322.7 1480.7,322.7" fill="#dc6426" opacity="0.95" filter="url(#f3)"/>
<polygon points="1144.1,360.5 1144.1,330.2 1485.1,330.2 1494.0,360.5" fill="#f4b81e" opacity="0.85" filter="url(#f3)"/>
<polygon points="1149.4,352.5 1149.4,342.5 1488.7,342.5 1492.2,352.5" fill="#f9e01a" filter="url(#f2)"/>
<polygon points="1117.6,387.0 1117.6,370.0 1294.3,364.3 1294.3,379.4" fill="#f1ac20" opacity="0.7" filter="url(#f6)"/>
<polygon points="1170.6,431.5 1170.6,417.3 1303.1,403.1 1303.1,415.4" fill="#f3b81e" opacity="0.6" filter="url(#f6)"/>
<polygon points="1736.0,190.2 1736.0,29.4 2071.8,29.4 2071.8,142.9" fill="#d25628" opacity="0.85" filter="url(#f10)"/>
<polygon points="1965.7,133.5 1965.7,29.4 2071.8,29.4 2071.8,133.5" fill="#dc6c28" opacity="0.7" filter="url(#f10)"/>
<polygon points="1797.9,251.7 1797.9,195.0 1983.4,195.0 2071.8,251.7" fill="#f0a222" opacity="0.8" filter="url(#f6)"/>
<polygon points="1630.0,493.0 1789.0,355.8 2071.8,327.4 2071.8,493.0" fill="#f5c41c" opacity="0.95" filter="url(#f10)"/>
<polygon points="1709.5,493.0 1877.4,407.8 2071.8,388.9 2071.8,493.0" fill="#f9e21a" opacity="0.95" filter="url(#f6)"/>
<polygon points="1842.0,493.0 1930.4,431.5 2071.8,417.3 2071.8,493.0" fill="#faee1e" opacity="0.95" filter="url(#f6)"/>
<polygon points="1585.8,483.5 1727.2,294.3 2151.3,294.3" fill="#ee9c22" opacity="0.9" filter="url(#f6)"/>
<polygon points="1585.8,483.5 1656.5,407.8 1810.2,199.7 1921.6,199.7 1859.7,303.8 1600.0,483.5" fill="#eb8e24" opacity="0.95" filter="url(#f6)"/>
<polygon points="1585.8,483.5 1783.0,190.2 1859.7,190.2" fill="#de6a26" opacity="0.95" filter="url(#f3)"/>
<polyline points="2015.2,90.9 1873.9,292.4" fill="none" stroke="#e07428" stroke-width="14" stroke-linecap="round" stroke-linejoin="round" opacity="0.8" filter="url(#f6)"/>
<polyline points="2018.8,265.9 1912.7,351.1" fill="none" stroke="#e88824" stroke-width="9" stroke-linecap="round" stroke-linejoin="round" opacity="0.7" filter="url(#f6)"/>
<polyline points="2036.4,284.8 1753.7,317.9" fill="none" stroke="#ec9422" stroke-width="7" stroke-linecap="round" stroke-linejoin="round" opacity="0.5" filter="url(#f6)"/>
<polygon points="1797.9,353.9 1797.9,341.6 2071.8,341.6 2071.8,353.9" fill="#f7d01c" opacity="0.55" filter="url(#f3)"/>
<polygon points="1859.7,387.0 1859.7,377.5 2071.8,377.5 2071.8,387.0" fill="#f8d81c" opacity="0.5" filter="url(#f3)"/>
<polygon points="1815.5,320.8 1815.5,309.4 2071.8,309.4 2071.8,320.8" fill="#f3b420" opacity="0.5" filter="url(#f3)"/>
<rect x="1134.8" y="56.8" width="884.4000000000001" height="426.7" fill="#000" filter="url(#fnD)" opacity="0.5"/>
<rect x="1134.8" y="190.23999999999995" width="410.20000000000005" height="293.26000000000005" fill="#000" filter="url(#fnY)" opacity="0.42"/>
<rect x="1545" y="379.44" width="474.20000000000005" height="104.06" fill="#000" filter="url(#fnY)" opacity="0.35"/>
<polyline points="1585.8,483.5 1420.4,360.5" fill="none" stroke="#e08026" stroke-width="2.5" stroke-linecap="round" stroke-linejoin="round" opacity="0.55" filter="url(#f1)"/>
<polyline points="1585.8,483.5 1379.1,360.5" fill="none" stroke="#e48a24" stroke-width="2.5" stroke-linecap="round" stroke-linejoin="round" opacity="0.55" filter="url(#f1)"/>
<polyline points="1585.8,483.5 1347.3,372.4" fill="none" stroke="#e89422" stroke-width="2.2" stroke-linecap="round" stroke-linejoin="round" opacity="0.55" filter="url(#f1)"/>
<polyline points="1585.8,483.5 1347.3,398.4" fill="none" stroke="#ea9c22" stroke-width="2" stroke-linecap="round" stroke-linejoin="round" opacity="0.55" filter="url(#f1)"/>
<polyline points="1585.8,483.5 1347.3,419.6" fill="none" stroke="#eca420" stroke-width="2" stroke-linecap="round" stroke-linejoin="round" opacity="0.55" filter="url(#f1)"/>
<polyline points="1585.8,483.5 1347.3,436.2" fill="none" stroke="#eeac20" stroke-width="2" stroke-linecap="round" stroke-linejoin="round" opacity="0.55" filter="url(#f1)"/>
<polyline points="1585.8,483.5 1347.3,449.9" fill="none" stroke="#f0b220" stroke-width="2" stroke-linecap="round" stroke-linejoin="round" opacity="0.55" filter="url(#f1)"/>
<polyline points="1585.8,483.5 1761.1,332.1" fill="none" stroke="#e08026" stroke-width="2.5" stroke-linecap="round" stroke-linejoin="round" opacity="0.55" filter="url(#f1)"/>
<polyline points="1585.8,483.5 1817.7,332.1" fill="none" stroke="#e48a24" stroke-width="2.5" stroke-linecap="round" stroke-linejoin="round" opacity="0.55" filter="url(#f1)"/>
<polyline points="1585.8,483.5 1891.2,332.1" fill="none" stroke="#e89222" stroke-width="2.2" stroke-linecap="round" stroke-linejoin="round" opacity="0.55" filter="url(#f1)"/>
<polyline points="1585.8,483.5 1939.2,348.4" fill="none" stroke="#ea9a22" stroke-width="2" stroke-linecap="round" stroke-linejoin="round" opacity="0.55" filter="url(#f1)"/>
<polyline points="1585.8,483.5 1939.2,381.2" fill="none" stroke="#eca220" stroke-width="2" stroke-linecap="round" stroke-linejoin="round" opacity="0.55" filter="url(#f1)"/>
<polyline points="1585.8,483.5 1939.2,407.8" fill="none" stroke="#eeac20" stroke-width="2" stroke-linecap="round" stroke-linejoin="round" opacity="0.55" filter="url(#f1)"/>
<polyline points="1585.8,483.5 1939.2,430.9" fill="none" stroke="#f0b220" stroke-width="2" stroke-linecap="round" stroke-linejoin="round" opacity="0.55" filter="url(#f1)"/>
<polygon points="1585.8,483.5 1536.4,431.5 1509.9,388.9 1497.5,351.1 1486.9,322.7 1469.2,300.0 1456.8,275.4 1437.4,223.3 1407.4,171.3 1347.3,57.8 1336.7,29.4 1577.0,29.4" fill="#cc4226" opacity="0.9" filter="url(#f3)"/>
<polygon points="1585.8,483.5 1543.4,431.5 1519.6,388.9 1508.1,351.1 1497.5,322.7 1479.8,300.0 1469.2,275.4 1451.5,223.3 1425.0,171.3 1363.2,57.8 1352.6,29.4 1577.0,29.4" fill="#b92323" filter="url(#f2)"/>
<polygon points="1585.8,483.5 1640.6,426.7 1683.0,379.4 1718.4,322.7 1762.5,256.5 1806.7,199.7 1868.6,147.7 1956.9,105.1 2071.8,72.0 2071.8,29.4 1594.7,29.4" fill="#cc4226" opacity="0.9" filter="url(#f6)"/>
<polygon points="1585.8,483.5 1630.0,426.7 1665.3,379.4 1697.2,322.7 1736.0,256.5 1774.9,199.7 1820.8,147.7 1863.3,105.1 1895.1,29.4 1594.7,29.4" fill="#b92323" filter="url(#f3)"/>
<polygon points="1674.2,199.7 1718.4,29.4 1797.9,29.4 1727.2,199.7" fill="#c83626" opacity="0.8" filter="url(#f10)"/>
<polyline points="1585.8,483.5 1638.0,300.0 1686.6,53.1" fill="none" stroke="#d8502a" stroke-width="3" stroke-linecap="round" stroke-linejoin="round" opacity="0.9" filter="url(#f1)"/>
<polyline points="1324.0,482.0 1291.7,397.6 1263.4,333.0 1231.0,252.0 1210.8,211.7 1186.6,151.0 1154.3,62.1 1148.0,44.0" fill="none" stroke="#d66a2a" stroke-width="9" stroke-linecap="round" stroke-linejoin="round" opacity="0.62" filter="url(#f3)"/>
<polyline points="1324.0,482.0 1345.0,432.0 1368.5,397.0 1392.7,352.0 1413.0,308.7 1431.1,260.2 1445.3,227.9" fill="none" stroke="#da7028" stroke-width="8" stroke-linecap="round" stroke-linejoin="round" opacity="0.6" filter="url(#f3)"/>
<polygon points="1324.0,490.0 1298.0,430.0 1312.0,402.0 1346.0,405.0 1352.0,432.0" fill="#e48226" opacity="0.8" filter="url(#f10)"/>
<polyline points="1327.0,481.0 1335.0,462.0 1343.0,438.0" fill="none" stroke="#c0342a" stroke-width="5" stroke-linecap="round" stroke-linejoin="round" opacity="0.95" filter="url(#f2)"/>
<polyline points="1392.0,352.0 1330.0,292.0 1262.0,236.0" fill="none" stroke="#dc7228" stroke-width="12" stroke-linecap="round" stroke-linejoin="round" opacity="0.7" filter="url(#f6)"/>
<polyline points="1368.0,396.0 1440.0,420.0 1500.0,448.0" fill="none" stroke="#e28224" stroke-width="4" stroke-linecap="round" stroke-linejoin="round" opacity="0.7" filter="url(#f2)"/>
<polyline points="1368.0,396.0 1300.0,380.0 1200.0,370.0" fill="none" stroke="#e89422" stroke-width="5" stroke-linecap="round" stroke-linejoin="round" opacity="0.6" filter="url(#f3)"/>
<polyline points="1215.0,195.0 1180.0,120.0 1160.0,60.0" fill="none" stroke="#cf5a2a" stroke-width="7" stroke-linecap="round" stroke-linejoin="round" opacity="0.6" filter="url(#f3)"/>
<polyline points="1832.0,482.0 1846.0,452.0" fill="none" stroke="#eeaa20" stroke-width="5" stroke-linecap="round" stroke-linejoin="round" opacity="0.8" filter="url(#f3)"/>
<polyline points="1832.0,482.0 1816.0,452.0" fill="none" stroke="#eeaa20" stroke-width="5" stroke-linecap="round" stroke-linejoin="round" opacity="0.8" filter="url(#f3)"/>
<polygon points="1585.8,483.5 1556.7,388.9 1535.7,322.7 1531.2,300.0 1529.0,267.8 1508.6,152.4 1497.7,71.0 1492.2,29.4 1580.5,29.4 1580.5,483.5" fill="#7050aa" filter="url(#f1)"/>
<polygon points="1585.8,483.5 1612.0,388.9 1636.5,300.0 1638.6,260.2 1660.0,152.4 1682.1,57.8 1688.3,29.4 1589.4,29.4 1589.4,483.5" fill="#7050aa" filter="url(#f1)"/>
<polyline points="1585.8,483.5 1556.7,388.9 1535.7,322.7 1531.2,300.0 1529.0,267.8 1508.6,152.4 1497.7,71.0 1492.2,29.4" fill="none" stroke="#b0309a" stroke-width="1.6" stroke-linecap="round" stroke-linejoin="round" opacity="0.85" filter="url(#f1)"/>
<polyline points="1585.8,483.5 1612.0,388.9 1636.5,300.0 1638.6,260.2 1660.0,152.4 1682.1,57.8 1688.3,29.4" fill="none" stroke="#b0309a" stroke-width="1.6" stroke-linecap="round" stroke-linejoin="round" opacity="0.85" filter="url(#f1)"/>
<polyline points="1513.4,256.5 1494.0,161.9" fill="none" stroke="#dc6428" stroke-width="14" stroke-linecap="round" stroke-linejoin="round" opacity="0.65" filter="url(#f6)"/>
<polyline points="1488.7,124.0 1478.0,67.3" fill="none" stroke="#d85a28" stroke-width="9" stroke-linecap="round" stroke-linejoin="round" opacity="0.55" filter="url(#f6)"/>
<polyline points="1651.2,275.4 1693.6,105.1" fill="none" stroke="#d85828" stroke-width="12" stroke-linecap="round" stroke-linejoin="round" opacity="0.6" filter="url(#f6)"/>
<polygon points="1569.9,299.0 1554.0,280.1 1539.0,247.0 1526.6,195.0 1515.2,133.5 1506.3,81.4 1498.4,29.4 1566.4,29.4 1568.2,124.0 1571.7,199.7 1573.5,256.5" fill="#c22c24" filter="url(#f1)"/>
<polygon points="1568.2,280.1 1554.9,265.9 1541.7,237.5 1534.6,204.4 1535.5,166.6 1541.7,133.5 1554.0,119.3 1564.6,142.9 1569.0,199.7" fill="#e4742a" filter="url(#f3)"/>
<polygon points="1564.6,256.5 1554.0,237.5 1547.0,204.4 1550.5,171.3 1559.3,166.6 1565.5,209.2" fill="#ea8626" filter="url(#f3)"/>
<polygon points="1601.7,299.0 1616.8,280.1 1627.4,247.0 1636.2,195.0 1643.3,142.9 1649.4,95.6 1656.5,29.4 1601.7,29.4 1601.7,124.0 1600.9,199.7 1600.0,256.5" fill="#c22c24" filter="url(#f1)"/>
<polygon points="1603.5,280.1 1614.1,265.9 1624.7,237.5 1632.7,204.4 1636.2,161.9 1631.8,128.7 1619.4,114.6 1607.0,133.5 1602.6,199.7" fill="#e4742a" filter="url(#f3)"/>
<polygon points="1608.8,251.7 1619.4,232.8 1626.5,199.7 1624.7,166.6 1615.9,161.9 1607.9,204.4" fill="#ea8626" filter="url(#f3)"/>
<polyline points="1577.0,190.2 1570.3,150.5 1561.8,107.9 1559.7,48.3" fill="none" stroke="#7050aa" stroke-width="5.5" stroke-linecap="round" stroke-linejoin="round" filter="url(#f1)"/>
<polyline points="1577.0,275.4 1576.1,190.2" fill="none" stroke="#7050aa" stroke-width="4" stroke-linecap="round" stroke-linejoin="round" filter="url(#f1)"/>
<polyline points="1599.1,275.4 1600.9,152.4 1599.1,48.3" fill="none" stroke="#7050aa" stroke-width="4" stroke-linecap="round" stroke-linejoin="round" filter="url(#f1)"/>
<polyline points="1530.2,48.3 1530.7,105.1 1531.9,157.1" fill="none" stroke="#0a0008" stroke-width="3.6" stroke-linecap="round" stroke-linejoin="round" filter="url(#f1)"/>
<polyline points="1531.4,147.7 1535.5,209.2" fill="none" stroke="#7050aa" stroke-width="3.5" stroke-linecap="round" stroke-linejoin="round" filter="url(#f1)"/>
<polyline points="1638.0,48.3 1638.5,105.1 1637.1,140.1" fill="none" stroke="#0a0008" stroke-width="3.6" stroke-linecap="round" stroke-linejoin="round" filter="url(#f1)"/>
<polyline points="1637.4,133.5 1630.0,204.4" fill="none" stroke="#7050aa" stroke-width="3.5" stroke-linecap="round" stroke-linejoin="round" filter="url(#f1)"/>
<polyline points="1447.5,243.0 1448.5,318.0" fill="none" stroke="#7050aa" stroke-width="9" stroke-linecap="round" stroke-linejoin="round" filter="url(#f2)"/>
<polyline points="1454.0,256.0 1462.0,293.0 1471.0,326.0" fill="none" stroke="#7050aa" stroke-width="9.5" stroke-linecap="round" stroke-linejoin="round" filter="url(#f2)"/>
<polyline points="1716.6,48.3 1712.2,100.4" fill="none" stroke="#b0309a" stroke-width="2.2" stroke-linecap="round" stroke-linejoin="round" opacity="0.85" filter="url(#f1)"/>
<polygon points="1585.8,483.5 1581.9,429.0 1577.4,365.2 1577.4,260.2 1572.2,57.8 1571.7,29.4 1593.8,29.4 1593.4,57.8 1594.7,260.2 1594.1,365.2 1590.4,429.0" fill="#050005" filter="url(#f1)"/>
</g>
<rect x="1134.8" y="56.8" width="884.4000000000001" height="426.7" fill="none" stroke="#1a1a1a" stroke-width="2.6"/>
<path d="M1223.6,483.5 v-7 M1223.6,56.8 v7 M1400.3,483.5 v-7 M1400.3,56.8 v7 M1577.0,483.5 v-7 M1577.0,56.8 v7 M1753.7,483.5 v-7 M1753.7,56.8 v7 M1930.4,483.5 v-7 M1930.4,56.8 v7 M1134.8,388.9 h7 M1134.8,294.3 h7 M1134.8,199.7 h7 M1134.8,105.1 h7 " stroke="#1a1a1a" stroke-width="1.6" fill="none"/>
<text class="ss" x="1130.0" y="495.1" font-size="28.5" text-anchor="end" fill="#222">0</text>
<text class="ss" x="1130.0" y="401.5" font-size="28.5" text-anchor="end" fill="#222">10</text>
<text class="ss" x="1130.0" y="307.9" font-size="28.5" text-anchor="end" fill="#222">20</text>
<text class="ss" x="1130.0" y="214.3" font-size="28.5" text-anchor="end" fill="#222">30</text>
<text class="ss" x="1130.0" y="120.7" font-size="28.5" text-anchor="end" fill="#222">40</text>
<text class="ss" font-size="28" fill="#222" text-anchor="middle" transform="translate(1082.5,261.5) rotate(-90)">B (T)</text>
<text class="ss" x="1233.8" y="515.7" font-size="29" text-anchor="end" fill="#222">&#8722;2</text>
<text class="ss" x="1407.5" y="515.7" font-size="29" text-anchor="end" fill="#222">&#8722;1</text>
<text class="ss" x="1588.8" y="515.7" font-size="29" text-anchor="end" fill="#222">0</text>
<text class="ss" x="1761.5" y="515.7" font-size="29" text-anchor="end" fill="#222">1</text>
<text class="ss" x="1940.5" y="515.7" font-size="29" text-anchor="end" fill="#222">2</text>
<text class="ss" x="1548.5" y="545.2" font-size="30" fill="#222">V<tspan font-size="20" dy="10">g</tspan><tspan dy="-10"> (V)</tspan></text>
<rect x="1838.6" y="30.5" width="172.10000000000014" height="19.9" fill="url(#cbar)" stroke="#111" stroke-width="2.2"/>
<path d="M1867.3,30.5 v3.5 M1867.3,50.4 v-3.5 M1896.0,30.5 v3.5 M1896.0,50.4 v-3.5 M1924.7,30.5 v3.5 M1924.7,50.4 v-3.5 M1953.3,30.5 v3.5 M1953.3,50.4 v-3.5 M1982.0,30.5 v3.5 M1982.0,50.4 v-3.5 " stroke="#111" stroke-width="1.4" fill="none"/>
<text class="ss" x="1835.0" y="25.7" font-size="21.5" fill="#222">0.1</text>
<text class="ss" x="1888.5" y="25.7" font-size="21.5" fill="#222">1</text>
<text class="ss" x="1941.0" y="25.7" font-size="21.5" fill="#222">10</text>
<text class="ss" x="1993.5" y="25.7" font-size="21.5" fill="#222">100</text>
<text class="ss" x="1704.5" y="41" font-size="30.5" fill="#222">G/(e<tspan font-size="17" dy="-11">2</tspan><tspan dy="11">/h)</tspan></text>
<text class="sf" transform="translate(1048.5,577.5) scale(1.13,1.02)" font-size="44" font-weight="bold" fill="#111">(g)</text>
<g clip-path="url(#clipG)">
<rect x="1134.8" y="575.2" width="886.1000000000001" height="428.5999999999999" fill="#fdfdfd"/>
<path d="M1339.4,1003.8L1134.8,979.7M1339.4,1003.8L1134.8,976.9M1339.4,1003.8L1134.8,973.3M1339.4,1003.8L1134.8,968.6M1339.4,1003.8L1134.8,962.2M1339.4,1003.8L1134.8,953.0M1339.4,1003.8L1134.8,938.4M1339.4,1003.8L1134.8,912.3M1339.4,1003.8L1134.8,851.3M1339.4,1003.8L1134.8,820.8M1339.4,1003.8L1134.8,775.0M1339.4,1003.8L1134.8,698.8M1339.4,1003.8L1147.7,575.2M1339.4,1003.8L1243.6,575.2M1339.4,1003.8L1339.4,575.2M1339.4,1003.8L1531.1,575.2M1339.4,1003.8L1914.4,575.2M1339.4,1003.8L2020.9,699.0M1339.4,1003.8L2020.9,786.1M1339.4,1003.8L2020.9,834.5M1339.4,1003.8L2020.9,865.3M1339.4,1003.8L2020.9,886.6M1339.4,1003.8L2020.9,902.2M1339.4,1003.8L2020.9,914.2M1339.4,1003.8L2020.9,923.6M1400.9,1003.8L1134.8,805.4M1400.9,1003.8L1134.8,765.7M1400.9,1003.8L1134.8,706.2M1400.9,1003.8L1134.8,607.0M1400.9,1003.8L1209.3,575.2M1400.9,1003.8L1305.1,575.2M1400.9,1003.8L1400.9,575.2M1400.9,1003.8L1496.8,575.2M1400.9,1003.8L1592.6,575.2M1462.5,1003.8L1134.8,759.5M1462.5,1003.8L1134.8,710.7M1462.5,1003.8L1134.8,637.4M1462.5,1003.8L1175.0,575.2M1462.5,1003.8L1270.8,575.2M1462.5,1003.8L1366.7,575.2M1462.5,1003.8L1462.5,575.2M1462.5,1003.8L1558.3,575.2M1462.5,1003.8L1654.2,575.2M1524.0,1003.8L1134.8,713.7M1524.0,1003.8L1134.8,655.6M1524.0,1003.8L1140.7,575.2M1524.0,1003.8L1236.5,575.2M1524.0,1003.8L1332.4,575.2M1524.0,1003.8L1428.2,575.2M1524.0,1003.8L1524.0,575.2M1524.0,1003.8L1619.9,575.2M1524.0,1003.8L1715.7,575.2M1585.6,1003.8L1134.8,950.7M1585.6,1003.8L1134.8,944.5M1585.6,1003.8L1134.8,936.6M1585.6,1003.8L1134.8,926.3M1585.6,1003.8L1134.8,912.2M1585.6,1003.8L1134.8,891.8M1585.6,1003.8L1134.8,859.8M1585.6,1003.8L1134.8,802.2M1585.6,1003.8L1134.8,667.8M1585.6,1003.8L1134.8,600.6M1585.6,1003.8L1202.2,575.2M1585.6,1003.8L1298.1,575.2M1585.6,1003.8L1393.9,575.2M1585.6,1003.8L1489.8,575.2M1585.6,1003.8L1585.6,575.2M1585.6,1003.8L1681.4,575.2M1585.6,1003.8L1777.3,575.2M1585.6,1003.8L1873.1,575.2M1585.6,1003.8L1969.0,575.2M1585.6,1003.8L2020.9,614.4M1585.6,1003.8L2020.9,679.3M1585.6,1003.8L2020.9,809.1M1585.6,1003.8L2020.9,864.7M1585.6,1003.8L2020.9,895.6M1585.6,1003.8L2020.9,915.3M1585.6,1003.8L2020.9,928.9M1585.6,1003.8L2020.9,938.9M1585.6,1003.8L2020.9,946.5M1585.6,1003.8L2020.9,952.6M1647.1,1003.8L1455.5,575.2M1647.1,1003.8L1551.3,575.2M1647.1,1003.8L1647.1,575.2M1647.1,1003.8L1743.0,575.2M1647.1,1003.8L1838.8,575.2M1647.1,1003.8L1934.7,575.2M1647.1,1003.8L2020.9,585.9M1647.1,1003.8L2020.9,669.5M1647.1,1003.8L2020.9,725.2M1708.7,1003.8L1517.0,575.2M1708.7,1003.8L1612.9,575.2M1708.7,1003.8L1708.7,575.2M1708.7,1003.8L1804.5,575.2M1708.7,1003.8L1900.4,575.2M1708.7,1003.8L1996.2,575.2M1708.7,1003.8L2020.9,654.7M1708.7,1003.8L2020.9,724.5M1708.7,1003.8L2020.9,771.1M1770.2,1003.8L1578.6,575.2M1770.2,1003.8L1674.4,575.2M1770.2,1003.8L1770.2,575.2M1770.2,1003.8L1866.1,575.2M1770.2,1003.8L1961.9,575.2M1770.2,1003.8L2020.9,630.1M1770.2,1003.8L2020.9,723.6M1770.2,1003.8L2020.9,779.6M1770.2,1003.8L2020.9,817.0M1831.8,1003.8L1134.8,921.8M1831.8,1003.8L1134.8,912.1M1831.8,1003.8L1134.8,899.9M1831.8,1003.8L1134.8,883.9M1831.8,1003.8L1134.8,862.1M1831.8,1003.8L1134.8,830.6M1831.8,1003.8L1134.8,781.1M1831.8,1003.8L1134.8,692.1M1831.8,1003.8L1256.8,575.2M1831.8,1003.8L1640.1,575.2M1831.8,1003.8L1831.8,575.2M1831.8,1003.8L1927.6,575.2M1831.8,1003.8L2020.9,580.9M1831.8,1003.8L2020.9,721.9M1831.8,1003.8L2020.9,792.4M1831.8,1003.8L2020.9,834.7M1831.8,1003.8L2020.9,862.8M1831.8,1003.8L2020.9,919.2M1831.8,1003.8L2020.9,943.4M1831.8,1003.8L2020.9,956.8M1831.8,1003.8L2020.9,965.4M1831.8,1003.8L2020.9,971.3M1831.8,1003.8L2020.9,975.6M1831.8,1003.8L2020.9,978.9M1831.8,1003.8L2020.9,981.5" stroke="#7d838c" stroke-opacity="0.36" stroke-width="1.4" fill="none"/>
<path d="M1134.8,728.5 H2020.9 M1134.8,866.2 H2020.9 M1134.8,912.0 H2020.9 M1134.8,935.0 H2020.9 M1134.8,948.7 H2020.9 " stroke="#f68c3c" stroke-width="3" stroke-dasharray="7 5.4" fill="none"/>
<path d="M1585.6,1003.8L1777.3,575.2M1585.6,1003.8L2020.9,679.3M1585.6,1003.8L2020.9,809.1M1585.6,1003.8L2020.9,864.7M1585.6,1003.8L2020.9,895.6M1585.6,1003.8L1393.9,575.2M1585.6,1003.8L1134.8,667.8M1585.6,1003.8L1134.8,802.2M1585.6,1003.8L1134.8,859.8M1585.6,1003.8L1134.8,891.8M1831.8,1003.8L2020.9,580.9M1831.8,1003.8L2020.9,862.8M1339.4,1003.8L1147.7,575.2M1339.4,1003.8L1462.5,728.5" stroke="#262626" stroke-width="1.6" fill="none"/>
<path d="M1516.4,711.4L1455.5,575.2M1524.0,689.5L1524.0,575.2M1572.6,670.4L1551.3,575.2M1609.0,623.8L1619.9,575.2M1647.1,687.6L1647.1,575.2M1647.1,728.5L1715.7,575.2M1721.9,669.5L1743.0,575.2M1261.9,796.5L1135.2,607.6M1277.1,796.5L1216.3,728.5M1292.3,796.5L1216.3,728.5M1440.9,825.2L1462.5,728.5M1462.5,825.2L1462.5,728.5M1484.1,825.2L1462.5,728.5M1326.4,902.4L1279.1,867.1M1378.8,910.3L1346.4,874.0M1369.0,934.1L1352.2,921.6M1413.0,893.0L1400.9,866.2M1425.0,893.0L1400.9,866.2M1339.4,1003.8L1339.4,937.5" stroke="#ea4428" stroke-width="2.9" stroke-linecap="round" fill="none"/>
<path d="M1585.6,1003.8L1585.6,575.2M1585.6,1003.8L1681.4,575.2M1585.6,1003.8L1489.8,575.2M1585.6,1003.8L1654.6,900.9M1585.6,1003.8L1677.6,900.9M1585.6,1003.8L1700.6,900.9M1585.6,1003.8L1514.0,897.1M1585.6,1003.8L1516.2,926.2M1585.6,1003.8L1484.9,913.7" stroke="#2b5fc4" stroke-width="3" fill="none"/>
</g>
<rect x="1134.8" y="575.2" width="886.1000000000001" height="428.5999999999999" fill="none" stroke="#333" stroke-width="1.8"/>
<path d="M1216.3,1003.8 v-8 M1277.8,1003.8 v-8 M1339.4,1003.8 v-8 M1400.9,1003.8 v-8 M1462.5,1003.8 v-8 M1524.0,1003.8 v-8 M1585.6,1003.8 v-8 M1647.1,1003.8 v-8 M1708.7,1003.8 v-8 M1770.2,1003.8 v-8 M1831.8,1003.8 v-8 M1893.3,1003.8 v-8 M1954.9,1003.8 v-8 M1134.8,908.5 h8 M1134.8,813.3 h8 M1134.8,718.0 h8 M1134.8,622.8 h8 " stroke="#333" stroke-width="1.6" fill="none"/>
<text class="ss" x="1129.5" y="1011.0" font-size="28.5" text-anchor="end" fill="#222">0</text>
<text class="ss" x="1129.5" y="917.0" font-size="28.5" text-anchor="end" fill="#222">10</text>
<text class="ss" x="1129.5" y="823.0" font-size="28.5" text-anchor="end" fill="#222">20</text>
<text class="ss" x="1129.5" y="729.0" font-size="28.5" text-anchor="end" fill="#222">30</text>
<text class="ss" x="1129.5" y="635.0" font-size="28.5" text-anchor="end" fill="#222">40</text>
<text class="ss" font-size="28" fill="#222" text-anchor="middle" transform="translate(1083,789) rotate(-90)">B (T)</text>
<text class="ss" x="1334.0" y="1035.2" font-size="29" text-anchor="middle" fill="#222">-4</text>
<text class="ss" x="1584.4" y="1035.2" font-size="29" text-anchor="middle" fill="#222">0</text>
<text class="ss" x="1829.6" y="1035.2" font-size="29" text-anchor="middle" fill="#222">4</text>
<text class="ss" x="1563" y="1068.5" font-size="32" fill="#222">n/n<tspan font-size="20" dy="11">0</tspan></text>
<text class="ss" x="2024.5" y="735.3" font-size="22.5" font-weight="bold" fill="#f57a1e">1</text>
<text class="ss" x="2024.5" y="875.6" font-size="22.5" font-weight="bold" fill="#f57a1e">1/2</text>
<text class="ss" x="2024.5" y="921.2" font-size="22.5" font-weight="bold" fill="#f57a1e">1/3</text>
<text class="ss" x="2024.5" y="942.7" font-size="22.5" font-weight="bold" fill="#f57a1e">1/4</text>
<text class="ss" x="2024.5" y="962.4" font-size="22.5" font-weight="bold" fill="#f57a1e">1/5</text>
<text class="ss" font-size="33" fill="#f57a1e" transform="translate(2045,646) rotate(90)">&#981;/&#981;<tspan font-size="21" dy="9">0</tspan></text>
</svg>
</body></html>
